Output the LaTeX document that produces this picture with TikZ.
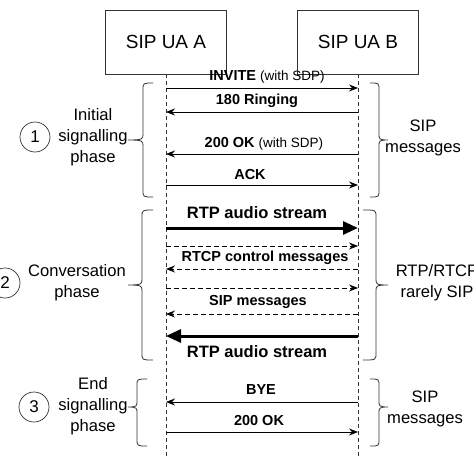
\documentclass[tikz,border=0pt]{standalone}
\usepackage{fontspec}
\setmainfont{Liberation Sans}
\usetikzlibrary{arrows.meta}
\newcommand\sipbrace[6]{%
  \draw[bracestyle] (#1,#4) .. controls (#2,#4) .. (#2,#4+7)
    -- (#2,#5-6) .. controls (#2,#5-1) and (#2,#5) .. (#3,#5)
    .. controls (#2,#5) and (#2,#5+1) .. (#2,#5+6)
    -- (#2,#6-7) .. controls (#2,#6) .. (#1,#6);}
\begin{document}
\begin{tikzpicture}[x=1pt,y=-1pt,
  box/.style={draw=black!80, line width=0.8pt, minimum width=121pt, minimum height=64pt, inner sep=0pt, font=\fontsize{19}{22}\selectfont},
  life/.style={draw=black!80, line width=0.7pt, dash pattern=on 4pt off 3pt},
  msg/.style={-{Stealth[length=9pt,width=7pt,inset=3pt]}, line width=0.8pt},
  dmsg/.style={msg, dash pattern=on 5pt off 3pt},
  rtp/.style={-{Triangle[length=15pt,width=13pt]}, line width=3pt},
  lbl/.style={font=\bfseries\fontsize{14.5}{16}\selectfont, inner sep=0pt},
  big/.style={font=\bfseries\fontsize{16.5}{18}\selectfont, inner sep=0pt},
  side/.style={font=\fontsize{16.6}{21}\selectfont, align=center, inner sep=0pt},
  num/.style={draw=black!80, circle, minimum size=30pt, inner sep=0pt, line width=0.7pt, font=\fontsize{17}{20}\selectfont},
  bracestyle/.style={draw=black!80, line width=0.8pt}]
\useasboundingbox (0,0) rectangle (474,474);
\fill[white] (0,0) rectangle (474,474);

% participants
\node[box] (boxA) at (166,42) {SIP UA A};
\node[box] (boxB) at (358,42) {SIP UA B};
\coordinate (endA) at (166,457);
\coordinate (endB) at (358,457);
\draw[life] (boxA.south) -- (endA);
\draw[life] (boxB.south) -- (endB);

% phase 1
\node[lbl] (l1) at (267,77) {INVITE \textnormal{\fontsize{13.5}{14}\selectfont(with SDP)}};
\draw[msg] (boxA |- 0,88) -- (boxB |- 0,88);
\node[lbl] (l2) at (257,101) {180 Ringing};
\draw[msg] (boxB |- 0,112) -- (boxA |- 0,112);
\node[lbl] (l3) at (264,144) {200 OK \textnormal{\fontsize{13.5}{14}\selectfont(with SDP)}};
\draw[msg] (boxB |- 0,154) -- (boxA |- 0,154);
\node[lbl] (l4) at (250,175) {ACK};
\draw[msg] (boxA |- 0,185) -- (boxB |- 0,185);

% phase 2
\node[big] (l5) at (257,213) {RTP audio stream};
\draw[rtp] (boxA |- 0,228) -- (boxB |- 0,228);
\draw[dmsg] (boxA |- 0,246) -- (boxB |- 0,246);
\node[lbl] (l6) at (265,258) {RTCP control messages};
\draw[dmsg] (boxB |- 0,269) -- (boxA |- 0,269);
\draw[dmsg] (boxA |- 0,288) -- (boxB |- 0,288);
\node[lbl] (l7) at (258,302) {SIP messages};
\draw[dmsg] (boxB |- 0,314) -- (boxA |- 0,314);
\draw[rtp] (boxB |- 0,336) -- (boxA |- 0,336);
\node[big] (l8) at (257,352) {RTP audio stream};

% phase 3
\node[lbl] (l9) at (261,390) {BYE};
\draw[msg] (boxB |- 0,402) -- (boxA |- 0,402);
\node[lbl] (l10) at (259,421) {200 OK};
\draw[msg] (boxA |- 0,432) -- (boxB |- 0,432);

% braces
\sipbrace{153}{143}{128}{83}{140}{197}
\sipbrace{153}{142}{128}{210}{285}{360}
\sipbrace{147}{137}{128}{379}{407}{446}
\sipbrace{370}{379}{388}{83}{140}{197}
\sipbrace{363}{376}{388}{210}{285}{360}
\sipbrace{370}{379}{388}{379}{407}{446}

% left side labels
\node[num] (n1) at (35,137) {1};
\node[side] (s1) at (93,137) {Initial\\signalling\\phase};
\node[num] (n2) at (5,283) {2};
\node[side] (s2) at (77,283) {Conversation\\phase};
\node[num] (n3) at (34,407) {3};
\node[side] (s3) at (93,406) {End\\signalling\\phase};

% right side labels
\node[side] (r1) at (423,138) {SIP\\messages};
\node[side] (r2) at (437,283) {RTP/RTCP\\rarely SIP};
\node[side] (r3) at (425,409) {SIP\\messages};
\end{tikzpicture}
\end{document}
